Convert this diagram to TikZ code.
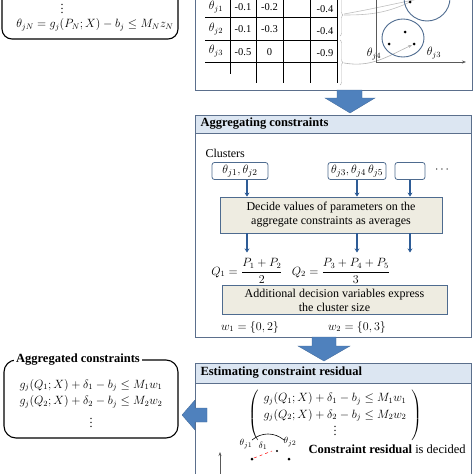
\documentclass[tikz,border=0pt]{standalone}
\usepackage{amsmath}
\usepackage{fontspec}
\setmainfont{Liberation Serif}
\usetikzlibrary{positioning,arrows.meta,decorations.pathreplacing}

\definecolor{panelline}{HTML}{5B6F8C}
\definecolor{boxline}{HTML}{4E6B8F}
\definecolor{titlefill}{HTML}{DCE6F2}
\definecolor{beige}{HTML}{EEECE1}
\definecolor{bigblue}{HTML}{4F81BD}
\definecolor{darkblue}{HTML}{2E5C96}

\begin{document}
\begin{tikzpicture}[x=1pt,y=-1pt,font=\fontsize{12}{14}\selectfont,
    panel/.style={draw=panelline, line width=0.9pt},
    titlebar/.style={draw=panelline, fill=titlefill, line width=0.9pt},
    clusterbox/.style={draw=boxline, rounded corners=2.5pt, line width=0.8pt, minimum height=17pt, inner sep=1.5pt, font=\fontsize{13}{15}\selectfont},
    infobox/.style={draw=boxline, fill=beige, line width=0.9pt, align=center, inner sep=1pt},
    down/.style={-{Stealth[length=4pt,width=5pt]}, darkblue, line width=1.1pt},
    bigarrow/.style={fill=bigblue, draw=bigblue!80!black, line width=0.3pt},
    heading/.style={font=\fontsize{12.5}{14}\selectfont\bfseries}]

    \useasboundingbox (0,0) rectangle (474,474);
    \clip (0,0) rectangle (474,474);

    % Constraints for each sample (top left, cut)
    \draw[line width=1.1pt, rounded corners=10pt] (2,-20) -- (2,39) -- (178,39) -- (178,-20);
    \node[inner sep=0pt] (dotsN) at (62,6) {$\vdots$};
    \node[inner sep=1pt] (eqN) at (95,25) {$\theta_{jN}=g_j(P_N;X)-b_j\le M_N z_N$};

    % Table and clusters
    \draw[panel] (195,-10) rectangle (472,90);
    \draw[line width=0.7pt] (205,17) -- (337,17);
    \draw[line width=0.7pt] (205,40) -- (337,40);
    \draw[line width=0.7pt] (205,62) -- (337,62);
    \draw[line width=0.9pt] (230,-10) -- (230,74);
    \draw[line width=0.6pt] (256,-10) -- (256,83) (283,-10) -- (283,83)
      (310,-10) -- (310,83) (337,-10) -- (337,83);
    \node (rowA) at (216,7) {$\theta_{j1}$};
    \node (rowB) at (216,29) {$\theta_{j2}$};
    \node (rowC) at (216,51) {$\theta_{j3}$};
    \begin{scope}[font=\fontsize{10.5}{12}\selectfont]
      \node at (243,7) {-0.1};   \node at (269.5,7) {-0.2};  \node at (325,9) {-0.4};
      \node at (243,29) {-0.1};  \node at (269.5,29) {-0.3}; \node at (325,31) {-0.4};
      \node at (243,52) {-0.5};  \node at (269.5,52) {0};    \node at (325,53) {-0.9};
    \end{scope}
    \draw[gray!60, decorate, decoration={brace, amplitude=3pt}] (340,-6) -- (340,36);
    \draw[gray!60, decorate, decoration={brace, amplitude=3pt}] (340,40) -- (340,85);
    \draw[gray!50, line width=0.6pt] (344,15) to[out=0,in=205] (410,2);
    \draw[gray!50, line width=0.6pt] (344,14) to[out=10,in=190] (435,-4);
    \draw[gray!60, line width=0.6pt, -{Stealth[length=4pt]}] (344,63) to[out=-10,in=205] (412,45);

    % Parameter space
    \draw[gray!70!black, line width=0.6pt] (376,-10) -- (376,62);
    \draw[gray!70!black, line width=0.6pt, -{Stealth[length=4pt]}] (376,62) -- (466,62);
    \draw[boxline, line width=0.9pt] (427,-2) circle (23pt);
    \draw[boxline, line width=0.9pt] (403,38) ellipse (21pt and 19pt);
    \fill (410,2) circle (1.5pt);
    \fill (405,32) circle (1.5pt);
    \fill (389,44) circle (1.5pt);
    \fill (414,44) circle (1.5pt);
    \node (labA) at (374,54) {$\theta_{j4}$};
    \node (labB) at (434,53) {$\theta_{j3}$};

    % Arrow to aggregation
    \fill[bigarrow] (337,90) -- (362,90) -- (362,98) -- (375,98) -- (350,113) -- (325,98) -- (337,98) -- cycle;

    % Aggregating constraints
    \draw[panel] (195,115) rectangle (471,337);
    \draw[titlebar] (195,115) rectangle (471,133);
    \node[anchor=west, heading] (aggTitle) at (197,124) {Aggregating constraints};
    \node[anchor=west] (clusters) at (202,153) {Clusters};
    \node[clusterbox, minimum width=56pt] (clA) at (240,171) {$\theta_{j1},\theta_{j2}$};
    \node[clusterbox, minimum width=58pt] (clB) at (357,171) {$\theta_{j3},\theta_{j4}\,\theta_{j5}$};
    \node[clusterbox, minimum width=30pt] (clC) at (410,171) {};
    \node (more) at (443,170) {$\cdots$};
    \node[infobox, minimum width=222pt, minimum height=36pt] (decide) at (331,215)
      {Decide values of parameters on the\\aggregate constraints as averages};
    \node[infobox, minimum width=225pt, minimum height=29pt] (addvar) at (334.5,300)
      {Additional decision variables express\\the cluster size};
    \node[inner sep=0pt] (qA) at (247,271) {$Q_1=\dfrac{P_1+P_2}{2}$};
    \node[inner sep=0pt] (qB) at (341,271) {$Q_2=\dfrac{P_3+P_4+P_5}{3}$};
    \node (wA) at (250,327) {$w_1=\{0,2\}$};
    \node (wB) at (357,327) {$w_2=\{0,3\}$};
    \draw[down] ([xshift=7pt]clA.south) -- ([xshift=7pt]clA.south |- decide.north);
    \draw[down] (clB.south) -- (clB.south |- decide.north);
    \draw[down] (clC.south) -- (clC.south |- decide.north);
    \draw[down] ([xshift=7pt]decide.south -| clA) -- ++(0,19);
    \draw[down] (decide.south -| clB) -- ++(0,19);
    \draw[down] (decide.south -| clC) -- ++(0,19);

    % Arrow to residual estimation
    \fill[bigarrow] (312,337) -- (336,337) -- (336,346) -- (350,346) -- (324,361) -- (298,346) -- (312,346) -- cycle;

    % Estimating constraint residual
    \draw[panel] (195,363) rectangle (471,490);
    \draw[titlebar] (195,363) rectangle (471,383);
    \node[anchor=west, heading] (estTitle) at (197,373) {Estimating constraint residual};
    \node (resEq) at (335,415) {$\left(\renewcommand{\arraystretch}{1.2}\begin{array}{c}
        g_j(Q_1;X)+\delta_1-b_j\le M_1w_1\\
        g_j(Q_2;X)+\delta_2-b_j\le M_2w_2\\[-3pt]
        \vdots\end{array}\right)$};
    \draw[gray!70!black, line width=0.6pt, -{Stealth[length=4pt]}] (220,480) -- (220,452);

    % Residual sketch
    \node[font=\fontsize{9.5}{10}\selectfont] (thA) at (246,444) {$\theta_{j1}$};
    \node[font=\fontsize{9.5}{10}\selectfont] (dl) at (263,446) {$\delta_1$};
    \node[font=\fontsize{9.5}{10}\selectfont] (thB) at (290,442) {$\theta_{j2}$};
    \draw[line width=0.6pt] (252,440) to[out=40,in=140] (284,440);
    \fill (277,451) circle (1.2pt);
    \fill (252,459) circle (1.5pt);
    \fill (289,459) circle (1.5pt);
    \draw[red, dashed, line width=0.5pt] (254,458) -- (272,451);
    \node[anchor=west, font=\fontsize{12.5}{14}\selectfont] (resText) at (305,449) {\textbf{Constraint residual} is decided};

    % Aggregated constraints (left)
    \draw[line width=1.1pt, rounded corners=12pt] (4,360) rectangle (178,438);
    \node[fill=white, inner sep=2pt, heading] (aggBoxTitle) at (78,360) {Aggregated constraints};
    \node[inner sep=1pt] (aggEq) at (91,393) {$\renewcommand{\arraystretch}{1.15}\begin{array}{c}
        g_j(Q_1;X)+\delta_1-b_j\le M_1w_1\\
        g_j(Q_2;X)+\delta_2-b_j\le M_2w_2
        \end{array}$};
    \node[inner sep=0pt, below=2pt of aggEq] (aggDots) {$\vdots$};

    % Arrow back to aggregated constraints
    \fill[bigarrow] (207,408) -- (195,408) -- (195,400) -- (182,415) -- (195,430) -- (195,422) -- (207,422) -- cycle;

\end{tikzpicture}
\end{document}
